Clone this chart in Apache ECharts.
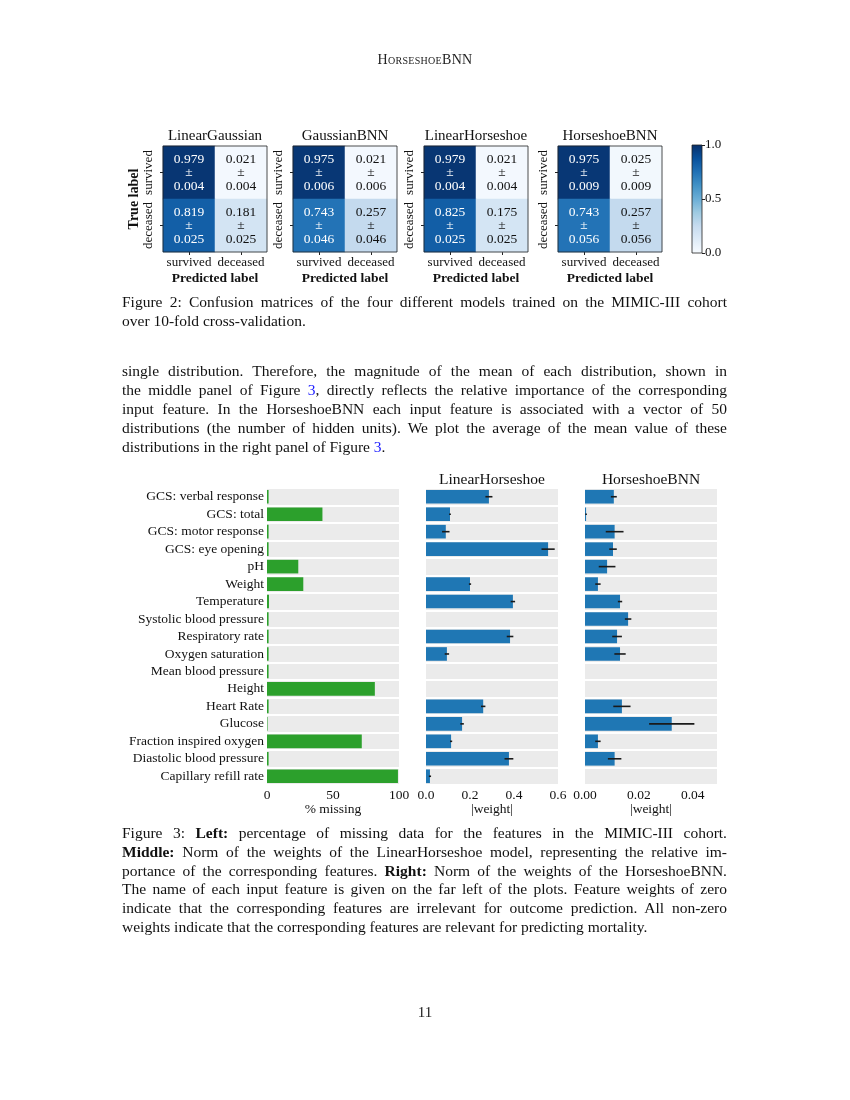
<!DOCTYPE html>
<html><head><meta charset="utf-8">
<script src="https://cdn.jsdelivr.net/npm/echarts/dist/echarts.min.js"></script>
<style>
html,body{margin:0;padding:0;background:#fff;}
#page{position:relative;width:850px;height:1100px;overflow:hidden;}
#chart{position:absolute;left:0;top:0;width:850px;height:1100px;}
.t{position:absolute;left:122px;width:605px;font-family:"Liberation Serif",serif;font-size:15.5px;line-height:19px;height:19px;white-space:nowrap;color:#111;}
.j{text-align:justify;text-align-last:justify;}
.lnk{color:#2020ff;}
.hdr{position:absolute;left:0;width:850px;text-align:center;font-family:"Liberation Serif",serif;font-size:14px;font-variant:small-caps;color:#222;}
</style>
</head><body>
<div id="page">
<div id="chart"></div>
<div class="hdr" style="top:52px;letter-spacing:0.3px">HorseshoeBNN</div>

<div class="t j" style="top:292px">Figure 2: Confusion matrices of the four different models trained on the MIMIC-III cohort</div>
<div class="t" style="top:311px">over 10-fold cross-validation.</div>

<div class="t j" style="top:361px">single distribution. Therefore, the magnitude of the mean of each distribution, shown in</div>
<div class="t j" style="top:380px">the middle panel of Figure <span class="lnk">3</span>, directly reflects the relative importance of the corresponding</div>
<div class="t j" style="top:399px">input feature. In the HorseshoeBNN each input feature is associated with a vector of 50</div>
<div class="t j" style="top:418px">distributions (the number of hidden units). We plot the average of the mean value of these</div>
<div class="t" style="top:437px">distributions in the right panel of Figure <span class="lnk">3</span>.</div>

<div class="t j" style="top:823px">Figure 3: <b>Left:</b> percentage of missing data for the features in the MIMIC-III cohort.</div>
<div class="t j" style="top:842px"><b>Middle:</b> Norm of the weights of the LinearHorseshoe model, representing the relative im-</div>
<div class="t j" style="top:861px">portance of the corresponding features. <b>Right:</b> Norm of the weights of the HorseshoeBNN.</div>
<div class="t j" style="top:879px">The name of each input feature is given on the far left of the plots. Feature weights of zero</div>
<div class="t j" style="top:898px">indicate that the corresponding features are irrelevant for outcome prediction. All non-zero</div>
<div class="t" style="top:917px">weights indicate that the corresponding features are relevant for predicting mortality.</div>

<div class="hdr" style="top:1004px;font-size:15px;font-variant:normal">11</div>
</div>
<script>
// ---------- Figure 2 data ----------
const cmModels = ['LinearGaussian', 'GaussianBNN', 'LinearHorseshoe', 'HorseshoeBNN'];
const cmLabels = ['survived', 'deceased'];
// order: [true survived→pred survived, true survived→pred deceased, true deceased→pred survived, true deceased→pred deceased]
const cmMeans = [
  [0.979, 0.021, 0.819, 0.181],
  [0.975, 0.021, 0.743, 0.257],
  [0.979, 0.021, 0.825, 0.175],
  [0.975, 0.025, 0.743, 0.257]
];
const cmStds = [
  [0.004, 0.004, 0.025, 0.025],
  [0.006, 0.006, 0.046, 0.046],
  [0.004, 0.004, 0.025, 0.025],
  [0.009, 0.009, 0.056, 0.056]
];
const colorbarTicks = [0.0, 0.5, 1.0];

// ---------- Figure 3 data ----------
const features = ['GCS: verbal response', 'GCS: total', 'GCS: motor response', 'GCS: eye opening', 'pH', 'Weight',
  'Temperature', 'Systolic blood pressure', 'Respiratory rate', 'Oxygen saturation', 'Mean blood pressure', 'Height',
  'Heart Rate', 'Glucose', 'Fraction inspired oxygen', 'Diastolic blood pressure', 'Capillary refill rate'];
const missingPct = [1.2, 42, 1.2, 1.2, 23.7, 27.5, 1.5, 1.2, 1.2, 1.2, 1.2, 81.7, 1.2, 0.4, 71.8, 1.2, 99.2];
const lhWeight = [0.286, 0.109, 0.090, 0.555, 0, 0.200, 0.395, 0, 0.382, 0.095, 0, 0, 0.260, 0.164, 0.114, 0.377, 0.018];
const lhErr    = [0.016, 0.004, 0.017, 0.030, 0, 0.005, 0.010, 0, 0.015, 0.010, 0, 0, 0.010, 0.008, 0.005, 0.020, 0.005];
const hbWeight = [0.0107, 0.0004, 0.0110, 0.0104, 0.0082, 0.0048, 0.0130, 0.0160, 0.0119, 0.0130, 0, 0, 0.0137, 0.0322, 0.0048, 0.0110, 0];
const hbErr    = [0.0011, 0.0003, 0.0033, 0.0014, 0.0031, 0.0010, 0.0008, 0.0012, 0.0018, 0.0021, 0, 0, 0.0032, 0.0084, 0.0010, 0.0025, 0];
const missTicks = [0, 50, 100];
const lhTicks = [0.0, 0.2, 0.4, 0.6];
const hbTicks = [0.00, 0.02, 0.04];

const blues = ['#f7fbff', '#deebf7', '#c6dbef', '#9ecae1', '#6baed6', '#4292c6', '#2171b5', '#08519c', '#08306b'];
const FONT = '"Liberation Serif", "Times New Roman", serif';

const chart = echarts.init(document.getElementById('chart'));

const grids = [], xAxes = [], yAxes = [], series = [], graphics = [];

// Confusion matrix grids
const cmLefts = [163, 293, 424, 558];
const cmW = 104, cmH = 106, cmTop = 146;
cmModels.forEach((name, m) => {
  grids.push({left: cmLefts[m], top: cmTop, width: cmW, height: cmH, show: true, z: 10,
    backgroundColor: 'transparent', borderColor: '#222', borderWidth: 0.8, containLabel: false});
  xAxes.push({type: 'category', gridIndex: m, data: cmLabels,
    axisLine: {show: false}, axisTick: {show: true, length: 3, alignWithLabel: true, interval: 0, lineStyle: {color: '#222'}},
    axisLabel: {fontFamily: FONT, fontSize: 13, color: '#111', margin: 4, interval: 0},
    name: 'Predicted label', nameLocation: 'middle', nameGap: 20,
    nameTextStyle: {fontFamily: FONT, fontSize: 13.5, fontWeight: 'bold', color: '#111'}});
  yAxes.push({type: 'category', gridIndex: m, data: ['deceased', 'survived'],
    axisLine: {show: false}, axisTick: {show: true, length: 3, alignWithLabel: true, interval: 0, lineStyle: {color: '#222'}},
    axisLabel: {fontFamily: FONT, fontSize: 13, color: '#111', rotate: 90, margin: 8, interval: 0},
    name: m === 0 ? 'True label' : '', nameLocation: 'middle', nameGap: 22,
    nameTextStyle: {fontFamily: FONT, fontSize: 14, fontWeight: 'bold', color: '#111'}});
  const means = cmMeans[m], stds = cmStds[m];
  const pos = [[0, 1], [1, 1], [0, 0], [1, 0]];
  series.push({type: 'heatmap', xAxisIndex: m, yAxisIndex: m,
    data: means.map((v, i) => ({value: [pos[i][0], pos[i][1], v], std: stds[i],
      label: {color: v > 0.5 ? '#fff' : '#111'}})),
    label: {show: true, fontFamily: FONT, fontSize: 13.5, lineHeight: 13.5,
      formatter: p => p.value[2].toFixed(3) + '\n±\n' + p.data.std.toFixed(3)},
    emphasis: {disabled: true}});
  graphics.push({type: 'text', x: cmLefts[m] + cmW / 2, y: 136,
    style: {text: name, font: '15px ' + FONT, fill: '#111', align: 'center', verticalAlign: 'middle'}});
});

// Colorbar grid (index 4)
grids.push({left: 692, top: 145, width: 10, height: 108, show: true, z: 10, backgroundColor: 'transparent',
  borderColor: '#222', borderWidth: 0.8});
xAxes.push({type: 'category', gridIndex: 4, data: [''], show: false});
yAxes.push({type: 'value', gridIndex: 4, min: 0, max: 1, interval: 0.5, position: 'right',
  axisLine: {show: false}, axisTick: {show: true, length: 3, lineStyle: {color: '#222'}},
  splitLine: {show: false},
  axisLabel: {fontFamily: FONT, fontSize: 13, color: '#111', margin: 3,
    formatter: v => colorbarTicks.includes(v) ? v.toFixed(1) : ''}});
series.push({type: 'bar', xAxisIndex: 4, yAxisIndex: 4, data: [1], barWidth: '100%', silent: true,
  itemStyle: {color: new echarts.graphic.LinearGradient(0, 0, 0, 1,
    blues.slice().reverse().map((c, i) => ({offset: i / (blues.length - 1), color: c})))}});

// Figure 3 panels (indices 5,6,7)
const pTop = 488, pH = 297;
const panels = [
  {left: 267, width: 132, max: 100, interval: 50, ticks: missTicks, fmt: v => String(v), name: '% missing',
   values: missingPct, color: '#2ca02c', labels: true},
  {left: 426, width: 132, max: 0.6, interval: 0.2, ticks: lhTicks, fmt: v => v.toFixed(1), name: '|weight|',
   values: lhWeight, err: lhErr, color: '#1f77b4', title: 'LinearHorseshoe'},
  {left: 585, width: 132, max: 0.049, interval: 0.02, ticks: hbTicks, fmt: v => v.toFixed(2), name: '|weight|',
   values: hbWeight, err: hbErr, color: '#1f77b4', title: 'HorseshoeBNN'}
];
panels.forEach((p, k) => {
  const gi = 5 + k;
  grids.push({left: p.left, top: pTop, width: p.width, height: pH});
  xAxes.push({type: 'value', gridIndex: gi, min: 0, max: p.max, interval: p.interval,
    axisLine: {show: false}, axisTick: {show: false}, splitLine: {show: false},
    axisLabel: {fontFamily: FONT, fontSize: 13.5, color: '#111', margin: 3, showMaxLabel: k !== 2,
      formatter: v => p.fmt(v)},
    name: p.name, nameLocation: 'middle', nameGap: 17,
    nameTextStyle: {fontFamily: FONT, fontSize: 13.5, color: '#111'}});
  yAxes.push({type: 'category', gridIndex: gi, data: features, inverse: true,
    axisLine: {show: false}, axisTick: {show: false},
    splitArea: {show: true, interval: 0, areaStyle: {color: ['#ebebeb', '#ebebeb']}},
    splitLine: {show: true, interval: 0, lineStyle: {color: '#fff', width: 2}},
    axisLabel: {show: !!p.labels, interval: 0, fontFamily: FONT, fontSize: 13.5, color: '#111', margin: 3}});
  series.push({type: 'bar', xAxisIndex: gi, yAxisIndex: gi, data: p.values, barWidth: '78%',
    itemStyle: {color: p.color}, silent: true});
  if (p.err) {
    series.push({type: 'custom', xAxisIndex: gi, yAxisIndex: gi, silent: true, z: 5,
      data: p.values.map((v, i) => [v, i, p.err[i]]),
      encode: {x: 0, y: 1},
      renderItem: (params, api) => {
        const v = api.value(0), y = api.value(1), e = api.value(2);
        if (!e) return null;
        const a = api.coord([v - e, y]), b = api.coord([v + e, y]);
        return {type: 'line', shape: {x1: a[0], y1: a[1], x2: b[0], y2: b[1]},
          style: {stroke: '#1a1a1a', lineWidth: 1.6}};
      }});
  }
  if (p.title) {
    graphics.push({type: 'text', x: p.left + p.width / 2, y: 480,
      style: {text: p.title, font: '15.5px ' + FONT, fill: '#111', align: 'center', verticalAlign: 'middle'}});
  }
});

chart.setOption({
  animation: false,
  backgroundColor: 'transparent',
  grid: grids, xAxis: xAxes, yAxis: yAxes, series: series,
  visualMap: {show: false, type: 'continuous', min: 0, max: 1, seriesIndex: [0, 1, 2, 3], inRange: {color: blues}},
  graphic: graphics
});
</script>
</body></html>
